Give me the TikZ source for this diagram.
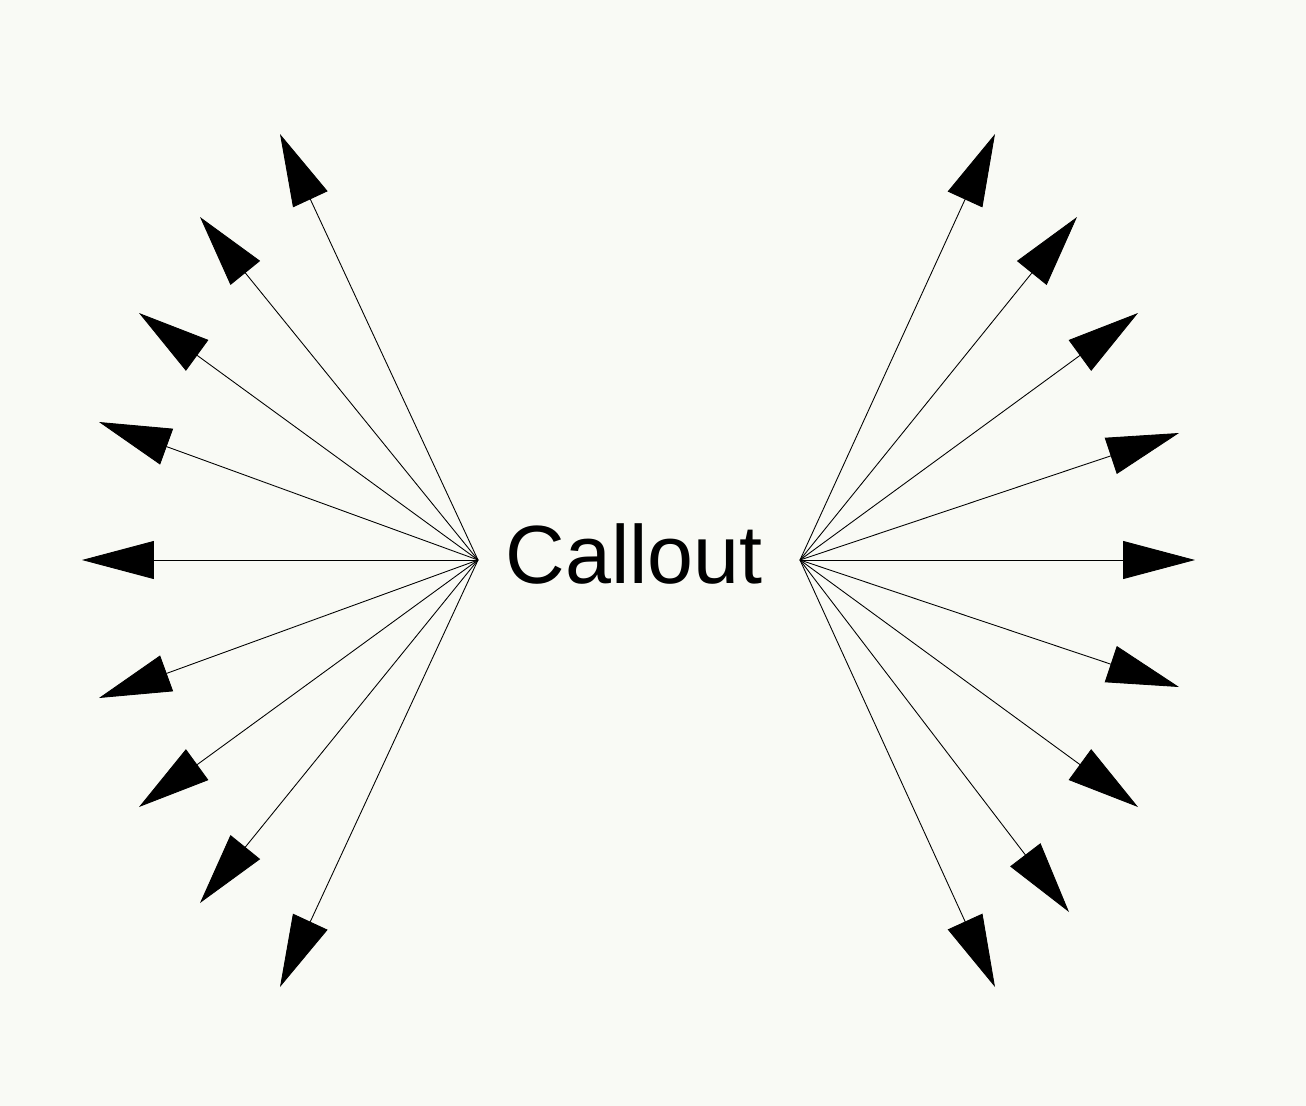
\documentclass[tikz,border=0pt]{standalone}
\usepackage{fontspec}
\setmainfont{Liberation Sans}
\usetikzlibrary{arrows.meta,positioning}
\definecolor{paper}{RGB}{249,250,245}

\begin{document}
\begin{tikzpicture}[x=0.02cm,y=-0.02cm,
	callarrow/.style={line width=0.5pt,-{Triangle[length=1.44cm,width=0.76cm]}}]
	\fill[paper] (0,0) rectangle (1306,1106);
	\useasboundingbox (0,0) rectangle (1306,1106);
	\node[anchor=base,inner sep=0pt,font=\fontsize{47}{50}\selectfont] (callout) at (634,583) {Callout};
	\coordinate (l) at (478,560);
	\coordinate (r) at (800,560);
	% left fan
	\coordinate (l1) at (280,134);
	\coordinate (l2) at (200,217);
	\coordinate (l3) at (139,313);
	\coordinate (l4) at (99,422);
	\coordinate (l5) at (82,560);
	\coordinate (l6) at (99,698);
	\coordinate (l7) at (139,807);
	\coordinate (l8) at (200,903);
	\coordinate (l9) at (280,987);
	% right fan
	\coordinate (r1) at (995,134);
	\coordinate (r2) at (1077,217);
	\coordinate (r3) at (1138,313);
	\coordinate (r4) at (1179,433);
	\coordinate (r5) at (1195,560);
	\coordinate (r6) at (1179,687);
	\coordinate (r7) at (1138,807);
	\coordinate (r8) at (1069,912);
	\coordinate (r9) at (995,987);
	\draw[callarrow] (l)--(l1);
	\draw[callarrow] (l)--(l2);
	\draw[callarrow] (l)--(l3);
	\draw[callarrow] (l)--(l4);
	\draw[callarrow] (l)--(l5);
	\draw[callarrow] (l)--(l6);
	\draw[callarrow] (l)--(l7);
	\draw[callarrow] (l)--(l8);
	\draw[callarrow] (l)--(l9);
	\draw[callarrow] (r)--(r1);
	\draw[callarrow] (r)--(r2);
	\draw[callarrow] (r)--(r3);
	\draw[callarrow] (r)--(r4);
	\draw[callarrow] (r)--(r5);
	\draw[callarrow] (r)--(r6);
	\draw[callarrow] (r)--(r7);
	\draw[callarrow] (r)--(r8);
	\draw[callarrow] (r)--(r9);
\end{tikzpicture}
\end{document}
